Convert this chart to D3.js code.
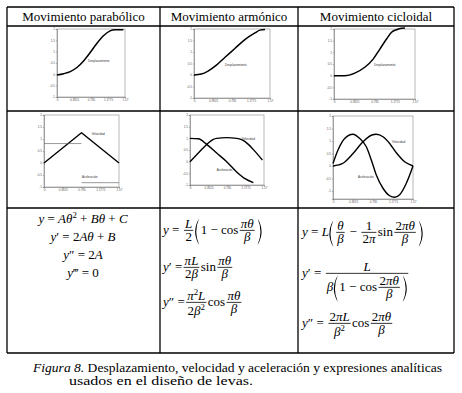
<!DOCTYPE html>
<html>
<head>
<meta charset="utf-8">
<script src="https://cdn.jsdelivr.net/npm/d3@7"></script>
<style>
  body { margin: 0; background: #fff; }
  svg text { white-space: pre; }
</style>
</head>
<body>
<div id="chart"></div>
<script>
// Column headers and axis ticks
const headers = ["Movimiento parabólico", "Movimiento armónico", "Movimiento cicloidal"];
const xTicks = [0, 0.3925, 0.785, 1.1775, 1.57];
const yTicks = [-1, -0.5, 0, 0.5, 1, 1.5, 2];

// Desplazamiento ([theta, y])
const despParabolico = [[0, -0.03], [0.153, 0.03], [0.306, 0.12], [0.46, 0.30], [0.613, 0.59], [0.766, 0.96],
  [0.919, 1.36], [1.072, 1.70], [1.225, 1.92], [1.34, 1.97], [1.532, 1.97]];
const despArmonico = [[0, 0], [0.152, 0.04], [0.29, 0.17], [0.463, 0.43], [0.636, 0.76], [0.844, 1.15],
  [1.051, 1.54], [1.259, 1.83], [1.362, 1.95], [1.466, 1.98]];
const despCicloidal = [[0, 0], [0.208, 0], [0.402, 0.11], [0.597, 0.36], [0.759, 0.71], [0.889, 1.14],
  [1.018, 1.57], [1.116, 1.86], [1.213, 1.97], [1.31, 2.03], [1.375, 2.04]];

// Velocidad y aceleración
const velParabolico = [[0, 0], [0.785, 1.26], [1.57, 0]];
const acelParabolico = [[0, 0.81], [0.785, 0.81], null, [0.785, -0.82], [1.57, -0.82]];
const velArmonico = [[0, 0], [0.177, 0.37], [0.354, 0.74], [0.495, 0.96], [0.566, 1.0], [0.778, 1.03],
  [0.99, 1.0], [1.096, 0.94], [1.238, 0.74], [1.379, 0.44], [1.535, 0.07]];
const acelArmonico = [[0, 1.0], [0.177, 0.98], [0.354, 0.74], [0.566, 0.37], [0.778, 0], [0.99, -0.44],
  [1.167, -0.73], [1.344, -0.9]];
const velCicloidal = [[0, 0], [0.196, 0.11], [0.393, 0.5], [0.589, 0.97], [0.752, 1.23], [0.85, 1.27],
  [0.981, 1.17], [1.112, 0.9], [1.243, 0.53], [1.407, 0.17], [1.57, 0]];
const acelCicloidal = [[0, 0.1], [0.098, 0.64], [0.229, 1.1], [0.393, 1.27], [0.524, 1.1], [0.654, 0.77],
  [0.752, 0.24], [0.85, -0.36], [0.981, -0.89], [1.112, -1.19], [1.21, -1.25], [1.308, -1.15],
  [1.439, -0.69], [1.57, 0]];

const caption1 = "Figura 8.";
const caption2 = " Desplazamiento, velocidad y aceleración y expresiones analíticas";
const caption3 = "usados en el diseño de levas.";

const W = 462, H = 393;
const colX = [7, 160, 298, 454];
const rowY = [7, 26, 111, 208, 353];
const serif = "Liberation Serif, Times New Roman, DejaVu Serif, serif";
const sans = "Liberation Sans, Arial, sans-serif";

const svg = d3.select("#chart").append("svg")
    .attr("width", W).attr("height", H)
    .attr("font-family", serif);

svg.append("rect").attr("width", W).attr("height", H).attr("fill", "#fff");

// small plots: box in page px, y domain, series, labels
const plots = [
  {x0: 57, x1: 125, y0: 29, y1: 97, yd: [-1, 2],
   series: [{d: despParabolico, w: 1.5, c: "#000"}],
   labels: [{t: "Desplazamiento", x: 0.716, y: 0.54}]},
  {x0: 194, x1: 270, y0: 29, y1: 98, yd: [-1, 2],
   series: [{d: despArmonico, w: 1.5, c: "#000"}],
   labels: [{t: "Desplazamiento", x: 0.64, y: 0.39}]},
  {x0: 334, x1: 415, y0: 29, y1: 99, yd: [-1, 2],
   series: [{d: despCicloidal, w: 1.5, c: "#000"}],
   labels: [{t: "Desplazamiento", x: 0.775, y: 0.41}]},
  {x0: 44, x1: 119, y0: 115, y1: 187, yd: [-1, 2], linear: true,
   series: [{d: velParabolico, w: 1.4, c: "#000"}, {d: acelParabolico, w: 0.6, c: "#555"}],
   labels: [{t: "Velocidad", x: 1.0, y: 1.17}, {t: "Aceleración", x: 0.795, y: -0.625}]},
  {x0: 190, x1: 264, y0: 115, y1: 185, yd: [-1, 2],
   series: [{d: velArmonico, w: 1.4, c: "#000"}, {d: acelArmonico, w: 1.4, c: "#000"}],
   labels: [{t: "Velocidad", x: 1.10, y: 0.93}, {t: "Aceleración", x: 0.57, y: -0.4}]},
  {x0: 333, x1: 413, y0: 116, y1: 199, yd: [-1.32, 2],
   series: [{d: velCicloidal, w: 1.4, c: "#000"}, {d: acelCicloidal, w: 1.4, c: "#000"}],
   labels: [{t: "Velocidad", x: 1.16, y: 0.92}, {t: "Aceleración", x: 0.49, y: -0.48}]}
];

plots.forEach(function(p){
    const x = d3.scaleLinear().domain([0, 1.57]).range([p.x0, p.x1]);
    const y = d3.scaleLinear().domain(p.yd).range([p.y1, p.y0]);
    const g = svg.append("g");

    g.append("rect")
        .attr("x", p.x0).attr("y", p.y0)
        .attr("width", p.x1 - p.x0).attr("height", p.y1 - p.y0)
        .attr("fill", "none").attr("stroke", "#888").attr("stroke-width", 0.6);

    const fmt = d => String(d);
    const ax = g.append("g").attr("transform", "translate(0," + p.y1 + ")")
        .call(d3.axisBottom(x).tickValues(xTicks).tickSize(1.2).tickPadding(1).tickFormat(fmt));
    const ay = g.append("g").attr("transform", "translate(" + p.x0 + ",0)")
        .call(d3.axisLeft(y).tickValues(yTicks).tickSize(1.2).tickPadding(1).tickFormat(fmt));
    [ax, ay].forEach(a => {
        a.attr("font-family", sans);
        a.selectAll("path").attr("stroke", "#777").attr("stroke-width", 0.6);
        a.selectAll("line").attr("stroke", "#777").attr("stroke-width", 0.5);
        a.selectAll("text").attr("font-size", 3).attr("fill", "#555");
    });

    const line = d3.line()
        .defined(d => d)
        .x(d => x(d[0])).y(d => y(d[1]))
        .curve(p.linear ? d3.curveLinear : d3.curveMonotoneX);

    p.series.forEach(s => {
        g.append("path").attr("d", line(s.d))
            .attr("fill", "none").attr("stroke", s.c).attr("stroke-width", s.w)
            .attr("stroke-linejoin", "round");
    });

    p.labels.forEach(l => {
        g.append("text").attr("x", x(l.x)).attr("y", y(l.y))
            .attr("font-size", 3).attr("fill", "#333")
            .attr("font-family", sans)
            .text(l.t);
    });
});

// table grid
const grid = svg.append("g").attr("stroke", "#000").attr("stroke-width", 1.3);
rowY.forEach(yy => grid.append("line").attr("x1", colX[0]).attr("x2", colX[3]).attr("y1", yy).attr("y2", yy));
colX.forEach(xx => grid.append("line").attr("x1", xx).attr("x2", xx).attr("y1", rowY[0]).attr("y2", rowY[4]));

headers.forEach((h, i) => {
    svg.append("text")
        .attr("x", (colX[i] + colX[i + 1]) / 2).attr("y", 21)
        .attr("text-anchor", "middle").attr("font-size", 13)
        .attr("font-family", serif)
        .text(h);
});

// ---- formula typesetting ----
const S = 13;
const AX = S * 0.28;   // math axis above baseline

function mtext(parent, str, size){
    const t = parent.append("text").attr("font-size", size).attr("font-family", serif);
    const re = /(sin|cos)|(\^\S)|([A-Za-zθβπ])|([^A-Za-zθβπ^]+)/g;
    let m, lift = 0;
    while ((m = re.exec(str)) !== null) {
        const sp = t.append("tspan");
        if (lift) { sp.attr("dy", lift); lift = 0; }
        if (m[1]) sp.text(m[1]);
        else if (m[2]) {
            sp.text(m[2][1]).attr("font-size", size * 0.68).attr("dy", -size * 0.42);
            lift = size * 0.42;
        }
        else if (m[3]) sp.text(m[3]).attr("font-style", "italic");
        else sp.text(m[4]);
    }
    return t;
}

function build(parent, items, size){
    const g = parent.append("g");
    let x = 0, asc = size * 0.68, desc = size * 0.05;
    items.forEach(it => {
        if (typeof it === "string") {
            const t = mtext(g, it, size).attr("x", x);
            x += t.node().getComputedTextLength();
            if (/\^/.test(it)) asc = Math.max(asc, size * 0.85);
            if (/[yβ]/.test(it)) desc = Math.max(desc, size * 0.22);
        } else if (it.frac) {
            const r = fracBox(g, it.frac[0], it.frac[1], size);
            r.g.attr("transform", "translate(" + x + ",0)");
            x += r.w; asc = Math.max(asc, r.asc); desc = Math.max(desc, r.desc);
        } else if (it.paren) {
            const r = parenBox(g, it.paren, size);
            r.g.attr("transform", "translate(" + x + ",0)");
            x += r.w; asc = Math.max(asc, r.asc); desc = Math.max(desc, r.desc);
        }
    });
    return {g: g, w: x, asc: asc, desc: desc};
}

function fracBox(parent, num, den, size){
    const g = parent.append("g");
    const n = build(g, num, size), d = build(g, den, size);
    const m = 1.4;
    const w = Math.max(n.w, d.w) + 2;
    n.g.attr("transform", "translate(" + (m + (w - n.w) / 2) + "," + (-AX - 1.5 - n.desc) + ")");
    d.g.attr("transform", "translate(" + (m + (w - d.w) / 2) + "," + (-AX + 1.8 + d.asc) + ")");
    g.append("line").attr("x1", m).attr("x2", m + w).attr("y1", -AX).attr("y2", -AX)
        .attr("stroke", "#000").attr("stroke-width", 0.8);
    return {g: g, w: w + 2 * m, asc: AX + 1.5 + n.desc + n.asc, desc: -AX + 1.8 + d.asc + d.desc};
}

function parenBox(parent, items, size){
    const g = parent.append("g");
    const pw = 4.5;
    const inner = build(g, items, size);
    inner.g.attr("transform", "translate(" + (pw + 1.5) + ",0)");
    const top = -inner.asc - 1.2, bot = inner.desc + 1.2, mid = (top + bot) / 2;
    const xr = pw + 3 + inner.w;
    g.append("path").attr("fill", "#000")
        .attr("d", "M" + pw + "," + top + "Q" + (-3.5) + "," + mid + " " + pw + "," + bot +
                   "Q" + (-1.3) + "," + mid + " " + pw + "," + top + "Z");
    g.append("path").attr("fill", "#000")
        .attr("d", "M" + xr + "," + top + "Q" + (xr + 2 * pw - 1) + "," + mid + " " + xr + "," + bot +
                   "Q" + (xr + 2 * pw - 3.2) + "," + mid + " " + xr + "," + top + "Z");
    return {g: g, w: xr + pw, asc: inner.asc + 1.2, desc: inner.desc + 1.2};
}

function formula(x, base, items, center){
    const r = build(svg, items, S);
    const dx = center ? x - r.w / 2 : x;
    r.g.attr("transform", "translate(" + dx + "," + base + ")");
}

// parabólico
formula(83, 223, ["y = Aθ^2 + Bθ + C"], true);
formula(83, 241, ["y′ = 2Aθ + B"], true);
formula(83, 259, ["y″ = 2A"], true);
formula(83, 277, ["y‴ = 0"], true);

// armónico
const piTheta = {frac: [["πθ"], ["β"]]};
formula(163, 234, ["y = ", {frac: [["L"], ["2"]]}, {paren: ["1 − cos", piTheta]}]);
formula(163, 271, ["y′ =", {frac: [["πL"], ["2β"]]}, "sin", piTheta]);
formula(163, 306, ["y″ =", {frac: [["π^2L"], ["2β^2"]]}, "cos", piTheta]);

// cicloidal
const twoPiTheta = {frac: [["2πθ"], ["β"]]};
formula(302, 236, ["y = L", {paren: [{frac: [["θ"], ["β"]]}, " − ", {frac: [["1"], ["2π"]]}, "sin", twoPiTheta]}]);
formula(302, 277, ["y′ = ", {frac: [["L"], ["β", {paren: ["1 − cos", twoPiTheta]}]]}]);
formula(302, 327, ["y″ = ", {frac: [["2πL"], ["β^2"]]}, "cos", twoPiTheta]);

// caption
const cap = svg.append("text").attr("x", 33).attr("y", 372).attr("font-size", 13)
    .attr("font-family", serif).attr("textLength", 409).attr("lengthAdjust", "spacingAndGlyphs");
cap.append("tspan").attr("font-style", "italic").text(caption1);
cap.append("tspan").text(caption2);
svg.append("text").attr("x", 69).attr("y", 385).attr("font-size", 13).attr("font-family", serif)
    .attr("textLength", 184).attr("lengthAdjust", "spacingAndGlyphs").text(caption3);
</script>
</body>
</html>
